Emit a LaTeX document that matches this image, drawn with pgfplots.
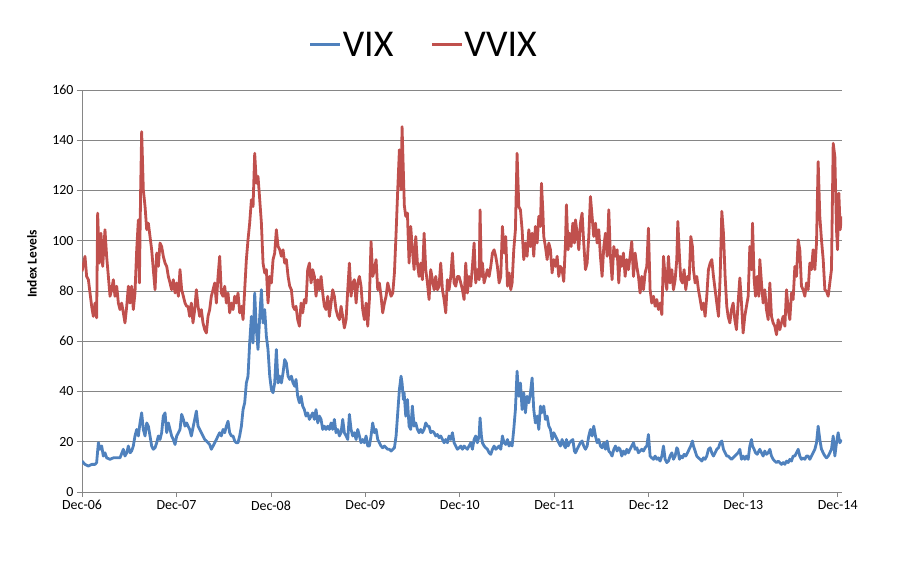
\documentclass[border=0pt]{standalone}
\usepackage{fontspec}
\setmainfont{Carlito}
\usepackage{pgfplots}
\pgfplotsset{compat=1.18}
\usepackage{pgfplotstable}
\definecolor{vixblue}{RGB}{79,129,189}
\definecolor{vvixred}{RGB}{192,80,77}
\definecolor{gridgray}{RGB}{134,134,134}

\pgfplotstableread{
month value
0.00 12.3
0.38 11.0
0.81 10.3
1.23 11.0
1.65 11.0
1.86 11.7
2.08 19.6
2.29 17.0
2.50 18.3
2.71 14.3
2.92 15.6
3.13 13.6
3.56 13.0
3.98 13.6
4.41 13.6
4.83 13.6
5.25 17.0
5.46 14.3
5.68 15.6
5.89 18.3
6.10 15.6
6.31 16.3
6.52 18.3
6.73 22.3
6.95 24.9
7.16 22.3
7.37 27.5
7.58 31.5
7.79 24.9
8.01 22.3
8.22 27.5
8.43 26.2
8.64 22.3
8.85 18.3
9.06 17.0
9.28 17.6
9.49 19.6
9.70 22.3
9.91 20.9
10.12 23.6
10.33 30.2
10.55 31.5
10.76 23.6
10.97 27.5
11.18 24.9
11.39 22.3
11.60 20.9
11.82 18.9
12.03 22.3
12.24 23.6
12.45 24.9
12.66 30.9
12.88 28.9
13.09 26.2
13.30 27.5
13.47 26.2
13.68 24.9
13.89 22.3
14.10 25.6
14.32 28.9
14.53 32.2
14.74 26.2
14.95 24.9
15.16 23.6
15.37 22.3
15.59 20.9
15.80 20.3
16.01 19.6
16.22 18.9
16.43 17.0
16.65 18.3
16.86 19.6
17.07 20.9
17.28 22.3
17.49 23.6
17.70 22.3
17.92 24.9
18.13 23.6
18.34 26.2
18.55 28.2
18.76 23.6
18.98 22.3
19.19 22.3
19.40 20.3
19.61 19.6
19.82 19.6
20.03 22.3
20.25 26.2
20.46 32.8
20.67 35.5
20.88 43.4
21.09 46.1
21.30 59.3
21.52 69.9
21.73 59.3
21.94 79.2
22.15 64.6
22.36 56.7
22.58 69.9
22.79 80.5
23.00 67.3
23.21 72.6
23.42 62.0
23.63 56.7
23.85 46.1
24.06 40.8
24.27 39.5
24.48 43.4
24.69 56.7
24.91 43.4
25.12 46.1
25.33 43.4
25.54 47.4
25.75 52.7
25.96 51.4
26.18 46.1
26.39 44.8
26.60 46.1
26.81 43.4
27.02 42.1
27.19 44.8
27.40 38.1
27.62 35.5
27.83 38.1
28.04 34.2
28.25 32.8
28.46 30.2
28.67 31.5
28.89 28.9
29.10 30.2
29.31 31.5
29.52 28.9
29.73 32.8
29.95 27.5
30.16 30.2
30.37 28.9
30.58 24.9
30.79 26.2
31.00 24.9
31.22 26.2
31.43 24.9
31.64 27.5
31.85 24.9
32.06 28.9
32.27 23.6
32.49 24.9
32.70 22.3
32.91 23.6
33.12 28.9
33.33 23.6
33.55 22.3
33.76 20.9
33.97 30.9
34.18 24.9
34.39 22.3
34.60 23.6
34.82 20.9
35.03 24.9
35.24 22.3
35.45 19.6
35.66 20.9
35.87 19.6
36.09 22.3
36.30 18.3
36.51 18.3
36.72 22.3
36.93 27.5
37.15 23.6
37.36 24.9
37.57 20.9
37.78 19.6
37.99 18.3
38.20 17.6
38.42 18.3
38.63 17.6
38.84 17.0
39.05 17.0
39.26 16.3
39.48 17.0
39.69 17.6
39.90 22.3
40.11 31.5
40.32 40.8
40.53 46.1
40.66 43.4
40.83 36.8
40.92 39.5
41.13 30.2
41.34 36.8
41.55 26.2
41.76 24.9
41.97 34.2
42.19 26.2
42.40 27.5
42.61 24.9
42.82 23.6
43.03 24.9
43.24 23.6
43.46 24.9
43.67 27.5
43.88 26.2
44.09 26.2
44.30 23.6
44.52 24.2
44.73 23.6
44.94 22.3
45.15 22.9
45.36 21.6
45.57 22.3
45.79 20.9
46.00 19.6
46.21 20.9
46.42 19.6
46.63 22.3
46.85 20.9
47.06 23.6
47.27 19.6
47.48 18.3
47.69 17.0
47.90 17.6
48.12 18.3
48.33 17.0
48.54 18.3
48.75 17.6
48.96 17.0
49.17 18.3
49.39 19.6
49.60 17.0
49.81 20.9
50.02 22.3
50.23 19.6
50.45 22.3
50.57 29.5
50.74 22.3
50.87 19.6
51.08 18.3
51.29 17.6
51.50 17.0
51.72 15.6
51.93 15.0
52.14 17.0
52.35 18.3
52.56 17.0
52.77 17.6
52.99 18.3
53.20 17.0
53.41 22.3
53.62 19.6
53.83 18.9
54.05 20.9
54.26 18.3
54.47 19.6
54.64 18.3
54.85 24.9
55.06 32.8
55.27 48.1
55.49 38.1
55.70 43.4
55.91 32.8
56.12 39.5
56.33 31.5
56.54 38.1
56.76 35.5
56.97 39.5
57.18 45.4
57.39 32.8
57.60 27.5
57.82 30.2
58.03 24.9
58.24 34.2
58.37 31.5
58.54 32.8
58.66 34.2
58.87 28.9
59.09 30.2
59.30 26.2
59.51 24.9
59.72 20.9
59.93 23.6
60.14 22.3
60.36 20.9
60.57 19.6
60.78 18.3
60.99 20.9
61.20 18.9
61.42 17.6
61.54 20.9
61.75 18.3
61.92 19.6
62.14 20.3
62.35 20.9
62.56 16.3
62.69 15.6
62.90 17.0
63.11 18.3
63.32 19.6
63.53 20.3
63.74 18.3
63.96 17.0
64.17 18.3
64.38 22.3
64.59 24.9
64.80 22.3
65.01 26.2
65.23 22.3
65.44 19.6
65.65 20.9
65.86 18.3
66.07 17.6
66.29 19.6
66.50 17.0
66.71 20.3
66.92 16.3
67.13 15.6
67.34 14.3
67.56 17.0
67.77 18.3
67.98 16.3
68.19 17.6
68.36 17.0
68.57 14.3
68.78 16.3
69.00 15.0
69.21 17.0
69.42 15.6
69.63 17.0
69.84 18.3
70.06 19.6
70.27 17.0
70.48 17.6
70.69 15.6
70.90 16.3
71.11 17.0
71.33 16.3
71.54 17.6
71.75 18.3
71.96 22.9
72.17 14.3
72.38 13.6
72.60 13.0
72.81 14.3
73.02 13.0
73.23 13.6
73.44 12.3
73.66 14.3
73.87 18.3
74.08 13.0
74.29 11.7
74.50 12.3
74.71 14.3
74.93 15.6
75.14 13.0
75.35 14.3
75.56 17.6
75.69 17.0
75.90 13.0
76.07 14.3
76.28 13.6
76.49 15.0
76.70 14.3
76.92 15.6
77.13 17.0
77.34 18.3
77.55 20.3
77.68 18.3
77.89 16.3
78.10 14.3
78.31 13.6
78.53 13.0
78.74 12.3
78.95 13.6
79.16 13.0
79.37 14.3
79.58 17.0
79.80 17.6
80.01 15.6
80.22 14.3
80.43 15.6
80.64 17.0
80.86 17.6
81.07 19.6
81.28 20.3
81.49 17.0
81.70 15.6
81.91 14.3
82.08 14.3
82.30 13.6
82.51 13.0
82.72 13.6
82.93 14.3
83.14 15.0
83.35 15.6
83.57 17.0
83.78 13.0
83.99 14.3
84.20 13.0
84.41 14.3
84.63 13.0
84.84 18.3
85.05 20.9
85.18 18.3
85.39 17.0
85.56 15.6
85.77 15.0
85.98 16.3
86.11 17.0
86.32 15.6
86.53 14.3
86.74 16.3
86.95 15.0
87.17 15.6
87.38 17.0
87.59 14.3
87.80 13.0
88.01 12.3
88.23 11.7
88.44 12.3
88.65 11.7
88.86 11.0
89.07 11.7
89.29 11.0
89.50 12.3
89.71 11.7
89.92 13.0
90.13 12.3
90.34 14.3
90.56 14.3
90.77 15.6
90.98 17.0
91.19 14.3
91.40 13.0
91.61 13.6
91.83 13.0
92.04 14.3
92.25 14.3
92.46 13.0
92.67 14.3
92.88 15.6
93.10 17.0
93.31 19.6
93.52 26.2
93.73 20.9
93.94 17.0
94.16 15.6
94.37 14.3
94.58 13.6
94.79 14.3
95.00 15.6
95.21 17.0
95.43 22.3
95.64 14.3
95.85 19.6
96.06 23.6
96.27 19.6
96.48 20.9
}\vixdata

\pgfplotstableread{
month value
0.00 87.8
0.38 93.8
0.59 85.8
0.81 84.5
1.02 79.2
1.23 73.9
1.44 69.9
1.65 75.2
1.86 69.3
1.99 111.0
2.20 91.1
2.41 103.0
2.63 89.8
2.92 104.4
3.13 93.8
3.35 85.8
3.56 77.9
3.77 80.5
3.98 84.5
4.19 77.9
4.41 81.9
4.62 75.2
4.83 72.6
5.04 75.2
5.25 71.3
5.46 67.3
5.68 73.9
5.89 81.9
6.10 75.2
6.31 81.9
6.52 72.6
6.73 79.2
6.95 96.4
7.16 108.3
7.29 83.2
7.45 120.3
7.58 143.4
7.79 120.3
8.01 113.6
8.22 104.4
8.43 107.0
8.64 101.7
8.85 96.4
9.06 88.5
9.28 80.5
9.49 95.1
9.70 89.8
9.91 99.1
10.12 97.7
10.33 93.8
10.55 91.1
10.76 89.8
10.97 85.8
11.18 83.2
11.39 80.5
11.60 84.5
11.82 79.2
12.03 83.2
12.24 77.9
12.45 88.5
12.66 80.5
12.88 77.9
13.09 75.2
13.30 73.9
13.47 73.9
13.68 69.9
13.89 75.2
14.10 67.3
14.32 72.6
14.53 80.5
14.74 73.9
14.95 69.9
15.16 72.6
15.37 67.3
15.59 64.6
15.80 63.3
16.01 69.9
16.22 72.6
16.43 77.9
16.65 80.5
16.86 83.2
17.07 75.2
17.28 85.8
17.49 93.8
17.70 79.2
17.92 77.9
18.13 81.9
18.34 75.2
18.55 79.2
18.76 71.3
18.98 75.2
19.19 72.6
19.40 77.9
19.61 75.2
19.82 79.2
20.03 71.3
20.25 73.9
20.46 68.6
20.67 80.5
20.88 92.5
21.09 100.4
21.30 107.0
21.52 116.3
21.73 113.6
21.94 134.8
22.15 122.9
22.36 125.6
22.58 116.3
22.79 107.0
23.00 91.1
23.21 87.2
23.42 88.5
23.63 75.2
23.85 85.8
24.06 83.2
24.27 92.5
24.48 95.1
24.69 104.4
24.91 97.7
25.12 96.4
25.33 93.8
25.54 96.4
25.75 91.1
25.96 92.5
26.18 85.8
26.39 81.9
26.60 80.5
26.81 73.9
27.02 72.6
27.19 73.9
27.40 68.6
27.62 66.0
27.83 75.2
28.04 71.3
28.25 76.6
28.46 75.2
28.67 88.5
28.89 91.1
29.10 83.2
29.31 88.5
29.52 85.8
29.73 77.9
29.95 84.5
30.16 80.5
30.37 85.8
30.58 79.2
30.79 73.9
31.00 72.6
31.22 77.9
31.43 69.9
31.64 75.2
31.85 80.5
32.06 77.9
32.27 72.6
32.49 69.9
32.70 68.6
32.91 73.9
33.12 69.9
33.33 65.3
33.55 68.6
33.76 80.5
33.97 91.1
34.18 77.9
34.39 83.2
34.60 84.5
34.82 75.2
35.03 83.2
35.24 85.8
35.45 81.9
35.66 72.6
35.87 68.6
36.09 75.2
36.30 66.0
36.51 76.6
36.72 99.7
36.93 85.8
37.15 88.5
37.36 92.5
37.57 80.5
37.78 83.2
37.99 77.9
38.20 71.3
38.42 75.2
38.63 77.9
38.84 83.2
39.05 80.5
39.26 77.9
39.48 79.2
39.69 87.2
39.90 103.0
40.11 120.3
40.32 136.2
40.53 120.3
40.66 145.4
40.83 126.9
40.95 114.0
41.13 109.7
41.34 111.0
41.55 91.1
41.76 105.7
41.97 96.4
42.19 88.5
42.40 101.7
42.61 91.1
42.82 85.8
43.03 91.1
43.24 84.5
43.46 103.0
43.67 88.5
43.88 83.2
44.09 76.6
44.30 88.5
44.52 84.5
44.73 80.5
44.94 85.8
45.15 80.5
45.36 81.9
45.57 91.1
45.79 80.5
46.00 76.6
46.21 71.3
46.42 84.5
46.63 80.5
46.85 85.8
47.06 95.1
47.27 83.2
47.48 81.9
47.69 85.8
47.90 85.8
48.12 83.2
48.33 80.5
48.54 76.6
48.75 91.1
48.96 79.2
49.17 85.8
49.39 81.9
49.60 89.8
49.81 99.1
50.02 83.2
50.23 88.5
50.45 84.5
50.57 112.3
50.74 85.8
50.87 91.1
51.08 83.2
51.29 85.8
51.50 88.5
51.72 85.8
51.93 89.8
52.14 95.1
52.35 96.4
52.56 93.8
52.77 89.8
52.99 83.2
53.20 85.8
53.41 105.7
53.62 95.1
53.83 101.7
54.05 81.9
54.26 87.2
54.47 80.5
54.64 83.2
54.85 96.4
55.06 104.4
55.27 134.8
55.49 113.6
55.70 112.3
55.91 104.4
56.12 92.5
56.33 99.1
56.54 93.8
56.76 104.4
56.97 97.7
57.18 103.0
57.39 93.8
57.60 105.7
57.82 99.1
58.03 109.7
58.24 105.7
58.37 122.9
58.54 112.3
58.66 101.7
58.87 97.7
59.09 92.5
59.30 99.1
59.51 96.4
59.72 87.2
59.93 92.5
60.14 89.8
60.36 93.8
60.57 85.8
60.78 89.8
60.99 88.5
61.20 83.8
61.42 99.1
61.54 114.3
61.75 96.4
61.92 103.0
62.14 97.7
62.35 107.0
62.56 99.1
62.69 108.3
62.90 103.0
63.11 96.4
63.32 107.0
63.53 111.0
63.74 99.1
63.96 88.5
64.17 91.1
64.38 101.7
64.59 117.6
64.80 109.7
65.01 101.7
65.23 107.0
65.44 99.1
65.65 104.4
65.86 93.8
66.07 85.8
66.29 97.7
66.50 103.0
66.71 93.8
66.92 112.3
67.13 93.8
67.34 84.5
67.56 97.7
67.77 93.8
67.98 96.4
68.19 83.2
68.36 93.8
68.57 89.8
68.78 95.1
69.00 85.8
69.21 92.5
69.42 88.5
69.63 93.8
69.84 99.7
70.06 85.8
70.27 95.1
70.48 89.8
70.69 85.8
70.90 79.2
71.11 85.8
71.33 80.5
71.54 87.2
71.75 89.8
71.96 105.0
72.17 80.5
72.38 75.2
72.60 77.9
72.81 73.9
73.02 76.6
73.23 72.6
73.44 75.2
73.66 70.6
73.87 93.8
74.08 85.8
74.29 80.5
74.50 93.8
74.71 83.2
74.93 88.5
75.14 80.5
75.35 84.5
75.56 92.5
75.69 107.7
75.90 93.8
76.07 84.5
76.28 83.2
76.49 88.5
76.70 80.5
76.92 85.8
77.13 84.5
77.34 101.7
77.55 97.7
77.68 88.5
77.89 83.2
78.10 85.8
78.31 80.5
78.53 76.6
78.74 72.6
78.95 75.2
79.16 69.9
79.37 77.9
79.58 88.5
79.80 91.1
80.01 92.5
80.22 85.8
80.43 80.5
80.64 75.2
80.86 69.9
81.07 85.8
81.28 111.7
81.49 103.0
81.70 85.8
81.91 73.9
82.08 69.9
82.30 67.3
82.51 72.6
82.72 75.2
82.93 68.6
83.14 64.6
83.35 75.2
83.57 85.2
83.78 75.2
83.99 63.3
84.20 69.9
84.41 73.9
84.63 77.9
84.84 97.7
85.05 88.5
85.18 107.0
85.39 84.5
85.56 77.9
85.77 85.8
85.98 77.9
86.11 92.5
86.32 83.2
86.53 75.2
86.74 80.5
86.95 72.6
87.17 68.6
87.38 83.2
87.59 69.9
87.80 67.3
88.01 66.0
88.23 62.6
88.44 68.6
88.65 64.6
88.86 67.3
89.07 69.9
89.29 66.0
89.50 80.5
89.71 72.6
89.92 68.6
90.13 79.2
90.34 76.6
90.56 89.8
90.77 85.8
90.98 100.4
91.19 96.4
91.40 81.9
91.61 80.5
91.83 77.9
92.04 83.2
92.25 80.5
92.46 91.1
92.67 88.5
92.88 96.4
93.10 88.5
93.31 99.1
93.52 131.5
93.73 109.7
93.94 100.4
94.16 92.5
94.37 80.5
94.58 79.9
94.79 77.9
95.00 83.2
95.21 88.5
95.43 138.8
95.64 133.5
95.85 104.4
95.98 96.4
96.15 118.9
96.32 104.4
96.48 109.7
}\vvixdata

\begin{document}
\begin{tikzpicture}
\path[use as bounding box] (0,0) rectangle (900bp,580bp);
\begin{axis}[
  at={(82bp,88bp)}, anchor=south west,
  scale only axis, width=760bp, height=402bp,
  xmin=0, xmax=96.55, ymin=0, ymax=160,
  xtick={0,12,24,36,48,60,72,84,96},
  xticklabels={Dec-06,Dec-07,Dec-08,Dec-09,Dec-10,Dec-11,Dec-12,Dec-13,Dec-14},
  ytick={0,20,40,60,80,100,120,140,160},
  axis x line*=bottom, axis y line*=left,
  axis line style={gridgray, line width=0.75bp, -},
  ymajorgrids, grid style={gridgray, line width=0.75bp},
  tick style={gridgray, line width=0.75bp},
  major tick length=5bp,
  tick align=outside,
  ticklabel style={font=\fontsize{14}{16}\selectfont},
  /pgf/number format/assume math mode=true,
  ylabel={Index Levels},
  ylabel style={font=\bfseries\fontsize{13.5}{15}\selectfont, at={(axis description cs:-0.066,0.567)}, anchor=center},
  legend style={at={(axis description cs:0.449,1.112)}, anchor=center, draw=none, fill=none,
    font=\fontsize{38}{40}\selectfont, nodes={inner sep=1bp},
    /tikz/every even column/.append style={column sep=36bp}},
  legend columns=2,
  legend image code/.code={\draw[#1, line width=3bp] (0bp,0bp) -- (30bp,0bp);},
]
\addplot[vixblue, line width=2.8bp, line join=round] table[x=month, y=value] {\vixdata};
\addlegendentry{VIX}
\addplot[vvixred, line width=2.8bp, line join=round] table[x=month, y=value] {\vvixdata};
\addlegendentry{VVIX}
\end{axis}
\end{tikzpicture}
\end{document}
